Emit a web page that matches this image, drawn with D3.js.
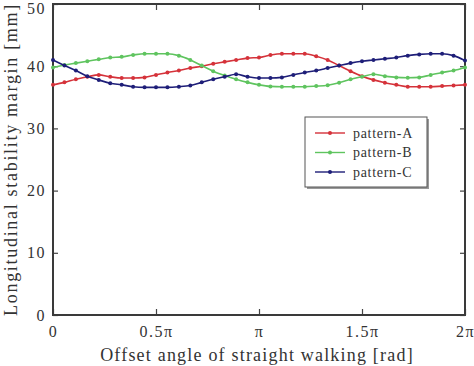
<!DOCTYPE html>
<html>
<head>
<meta charset="utf-8">
<script src="https://cdn.jsdelivr.net/npm/d3@7"></script>
<style>
	body { margin: 0; background: #fff; }
	text { font-family: "Liberation Serif", "DejaVu Serif", serif; fill: #333; }
</style>
</head>
<body>
<div id="chart"></div>
<script>
// offset angle in units of pi, 37 samples (every 10 deg)
var steps = d3.range(37);
var xTickVals = [0, 0.5, 1, 1.5, 2];
var xTickLabels = ["0", "0.5\u03c0", "\u03c0", "1.5\u03c0", "2\u03c0"];
var yTickVals = [0, 10, 20, 30, 40, 50];
var seriesNames = ["pattern-A", "pattern-B", "pattern-C"];
var seriesColors = ["#d5323a", "#5fc45f", "#1e1e78"];

var patternA = [37.0, 37.4, 37.9, 38.3, 38.6, 38.3, 38.1, 38.1, 38.2, 38.6, 39.0, 39.3, 39.7,
	40.0, 40.4, 40.7, 41.0, 41.3, 41.4, 41.8, 42.0, 42.0, 42.0, 41.6, 41.0,
	40.1, 39.2, 38.4, 37.8, 37.35, 37.0, 36.7, 36.7, 36.7, 36.8, 36.9, 37.0];
var patternB = [39.8, 40.2, 40.5, 40.8, 41.1, 41.4, 41.5, 41.8, 42.0, 42.0, 42.0, 41.7, 41.0,
	40.1, 39.2, 38.5, 37.9, 37.4, 37.0, 36.75, 36.7, 36.7, 36.7, 36.8, 36.95,
	37.35, 37.9, 38.3, 38.7, 38.4, 38.2, 38.15, 38.2, 38.6, 39.0, 39.3, 39.8];
var patternC = [41.0, 40.1, 39.3, 38.4, 37.8, 37.25, 37.0, 36.7, 36.6, 36.6, 36.6, 36.7, 36.9,
	37.4, 37.9, 38.3, 38.7, 38.3, 38.1, 38.1, 38.2, 38.6, 39.0, 39.3, 39.7,
	40.1, 40.5, 40.8, 41.0, 41.2, 41.4, 41.7, 41.9, 42.0, 42.0, 41.7, 40.9];
var allSeries = [patternA, patternB, patternC];

var W = 474, H = 366;
var m = {left: 53, right: 9, top: 4, bottom: 51};

var svg = d3.select("#chart").append("svg")
	.attr("width", W).attr("height", H);

var x = d3.scaleLinear().domain([0, 2]).range([m.left, W - m.right]);
var y = d3.scaleLinear().domain([0, 50]).range([H - m.bottom, m.top]);

//Ejes con ticks hacia dentro
var fmtX = function(d) { return xTickLabels[xTickVals.indexOf(d)]; };
var gx = svg.append("g").attr("transform", "translate(0," + y(0) + ")")
	.call(d3.axisBottom(x).tickValues(xTickVals).tickFormat(fmtX).tickSizeInner(-6).tickSizeOuter(0).tickPadding(9));
var gxt = svg.append("g").attr("transform", "translate(0," + y(50) + ")")
	.call(d3.axisTop(x).tickValues(xTickVals).tickFormat("").tickSizeInner(-6).tickSizeOuter(0));
var gy = svg.append("g").attr("transform", "translate(" + x(0) + ",0)")
	.call(d3.axisLeft(y).tickValues(yTickVals).tickSizeInner(-5).tickSizeOuter(0).tickPadding(7));
var gyr = svg.append("g").attr("transform", "translate(" + x(2) + ",0)")
	.call(d3.axisRight(y).tickValues(yTickVals).tickFormat("").tickSizeInner(-5).tickSizeOuter(0));

[gx, gxt, gy, gyr].forEach(function(g) {
	g.select(".domain").remove();
	g.selectAll(".tick line").attr("stroke", "#444").attr("stroke-width", 1.2);
	g.selectAll(".tick text").style("font-size", "16px").style("letter-spacing", "1.5px").attr("fill", "#333");
});
gx.selectAll(".tick text").attr("dy", "0.8em");
// el 50 queda pegado al borde superior
gy.selectAll(".tick text").filter(function(d) { return d === 50; }).attr("dy", "0.6em");

svg.append("rect")
	.attr("x", x(0)).attr("y", y(50))
	.attr("width", x(2) - x(0)).attr("height", y(0) - y(50))
	.attr("fill", "none").attr("stroke", "#3a3a3a").attr("stroke-width", 2);

//Series
var line = d3.line()
	.x(function(d, i) { return x(i / 18); })
	.y(function(d) { return y(d); })
	.curve(d3.curveMonotoneX);

allSeries.forEach(function(vals, k) {
	svg.append("path")
		.datum(vals)
		.attr("d", line)
		.attr("fill", "none")
		.attr("stroke", seriesColors[k])
		.attr("stroke-width", 1.6);
	svg.append("g").selectAll("circle")
		.data(vals)
		.enter().append("circle")
		.attr("cx", function(d, i) { return x(steps[i] / 18); })
		.attr("cy", function(d) { return y(d); })
		.attr("r", 2)
		.attr("fill", seriesColors[k]);
});

//Leyenda
var lg = svg.append("g").attr("transform", "translate(305,117)");
lg.append("rect").attr("x", 2).attr("y", 2).attr("width", 122).attr("height", 70)
	.attr("fill", "#999");
lg.append("rect").attr("width", 122).attr("height", 70)
	.attr("fill", "#fff").attr("stroke", "#555").attr("stroke-width", 1);
seriesNames.forEach(function(name, k) {
	var yy = 16 + k * 19.5;
	lg.append("line").attr("x1", 10).attr("x2", 40).attr("y1", yy).attr("y2", yy)
		.attr("stroke", seriesColors[k]).attr("stroke-width", 1.4);
	lg.append("circle").attr("cx", 25).attr("cy", yy).attr("r", 2).attr("fill", seriesColors[k]);
	lg.append("text").attr("x", 48).attr("y", yy).attr("dy", "0.33em")
		.style("font-size", "14px").style("letter-spacing", "0.7px").text(name);
});

//Titulos
svg.append("text")
	.attr("x", (x(0) + x(2)) / 2 - 2).attr("y", 361)
	.attr("text-anchor", "middle")
	.style("font-size", "18px").style("letter-spacing", "1.2px")
	.text("Offset angle of straight walking [rad]");
svg.append("text")
	.attr("transform", "translate(17," + ((y(0) + y(50)) / 2) + ") rotate(-90)")
	.attr("text-anchor", "middle")
	.style("font-size", "18px").style("letter-spacing", "1.7px")
	.text("Longitudinal stability margin [mm]");
</script>
</body>
</html>
